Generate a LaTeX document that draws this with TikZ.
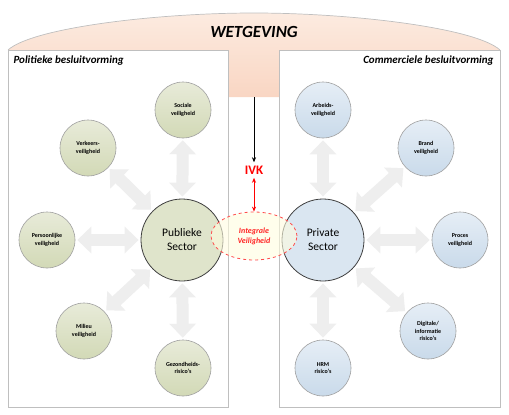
\documentclass[tikz,border=0pt]{standalone}
\usepackage{fontspec}
\setmainfont{Carlito}
\usetikzlibrary{arrows.meta,shapes.geometric}
\definecolor{peachT}{HTML}{FCEBE0}
\definecolor{peachB}{HTML}{F9D6C3}
\definecolor{boxline}{HTML}{BFBFBF}
\definecolor{grnT}{HTML}{E8EBD9}
\definecolor{grnB}{HTML}{D2D9B6}
\definecolor{bluT}{HTML}{E6EEF6}
\definecolor{bluB}{HTML}{C9DAEA}
\definecolor{satline}{HTML}{A0A0A0}
\definecolor{cenline}{HTML}{404040}
\definecolor{arrgray}{HTML}{EEEEEE}
\definecolor{ivred}{HTML}{FF0000}
\definecolor{ellfill}{HTML}{FFFDE0}
\tikzset{
  sat/.style={circle, minimum size=56pt, inner sep=0pt, draw=satline, line width=0.6pt,
    align=center, font=\fontsize{6}{7.5}\selectfont\bfseries},
  satg/.style={sat, top color=grnT, bottom color=grnB},
  satb/.style={sat, top color=bluT, bottom color=bluB},
  cen/.style={circle, minimum size=82pt, inner sep=0pt, draw=cenline, line width=0.8pt,
    align=center, font=\fontsize{11.5}{14}\selectfont},
  bigarrow/.style={line width=12pt, draw=arrgray,
    {Triangle[width=26pt,length=14pt]}-{Triangle[width=26pt,length=14pt]},
    shorten <=2pt, shorten >=2pt},
  sectbox/.style={draw=boxline, line width=0.7pt, fill=white},
  title/.style={font=\fontsize{11}{13}\selectfont\bfseries\itshape}
}
\begin{document}
\begin{tikzpicture}[x=1pt,y=-1pt]
\useasboundingbox (0,0) rectangle (509,415);
% peach arch + column
\path[top color=peachT, bottom color=peachB]
  (8,50) .. controls (32,28) and (155,13) .. (254,13)
  .. controls (353,13) and (476,28) .. (500,50)
  -- (279,50) -- (279,97) -- (228,97) -- (228,50) -- cycle;
\draw[draw=boxline, line width=0.7pt]
  (8,50) .. controls (32,28) and (155,13) .. (254,13)
  .. controls (353,13) and (476,28) .. (500,50);
% boxes
\draw[sectbox] (8,50) rectangle (228,407);
\draw[sectbox] (279,50) rectangle (500,407);
\node[font=\fontsize{17}{20}\selectfont\bfseries\itshape] (wet) at (254,32) {WETGEVING};
\node[title, anchor=west] (pol) at (10,61) {Politieke besluitvorming};
\node[title, anchor=east] (com) at (497,61) {Commerciele besluitvorming};
\coordinate (wbot) at (254,97);
% left side
\node[cen, fill=grnT!60!grnB] (pub) at (182,240) {Publieke\\Sector};
\node[satg] (soc) at (183,110) {Sociale\\veiligheid};
\node[satg] (ver) at (88,148) {Verkeers-\\veiligheid};
\node[satg] (per) at (47,240) {Persoonlijke\\veiligheid};
\node[satg] (mil) at (84,331) {Milieu\\veiligheid};
\node[satg] (gez) at (183,368) {Gezondheids-\\risico's};
% right side
\node[cen, fill=bluT!60!bluB] (pri) at (323,240) {Private\\Sector};
\node[satb] (arb) at (323,110) {Arbeids-\\veiligheid};
\node[satb] (bra) at (426,148) {Brand\\veiligheid};
\node[satb] (pro) at (460,240) {Proces\\veiligheid};
\node[satb] (dig) at (428,331) {Digitale/\\informatie\\risico's};
\node[satb] (hrm) at (323,368) {HRM\\risico's};
% big arrows
\foreach \s in {soc,ver,per,mil,gez} \draw[bigarrow] (pub) -- (\s);
\foreach \s in {arb,bra,pro,dig,hrm} \draw[bigarrow] (pri) -- (\s);
% integrale veiligheid
\node[ellipse, minimum width=86pt, minimum height=48pt, inner sep=0pt,
  draw=ivred!70, dashed, line width=0.8pt, fill=ellfill, fill opacity=0.6, text opacity=1,
  text=ivred!85, align=center, font=\fontsize{8}{10}\selectfont\bfseries\itshape]
  (int) at (254,236) {Integrale\\Veiligheid};
\node[text=ivred, font=\fontsize{13}{15}\selectfont\bfseries] (ivk) at (254,170) {IVK};
\draw[-{Stealth[length=5pt,width=4pt]}, line width=0.6pt] (wbot) -- (ivk);
\draw[{Stealth[length=5pt,width=4pt]}-{Stealth[length=5pt,width=4pt]}, draw=ivred, line width=0.8pt] (ivk) -- (int);
\end{tikzpicture}
\end{document}
